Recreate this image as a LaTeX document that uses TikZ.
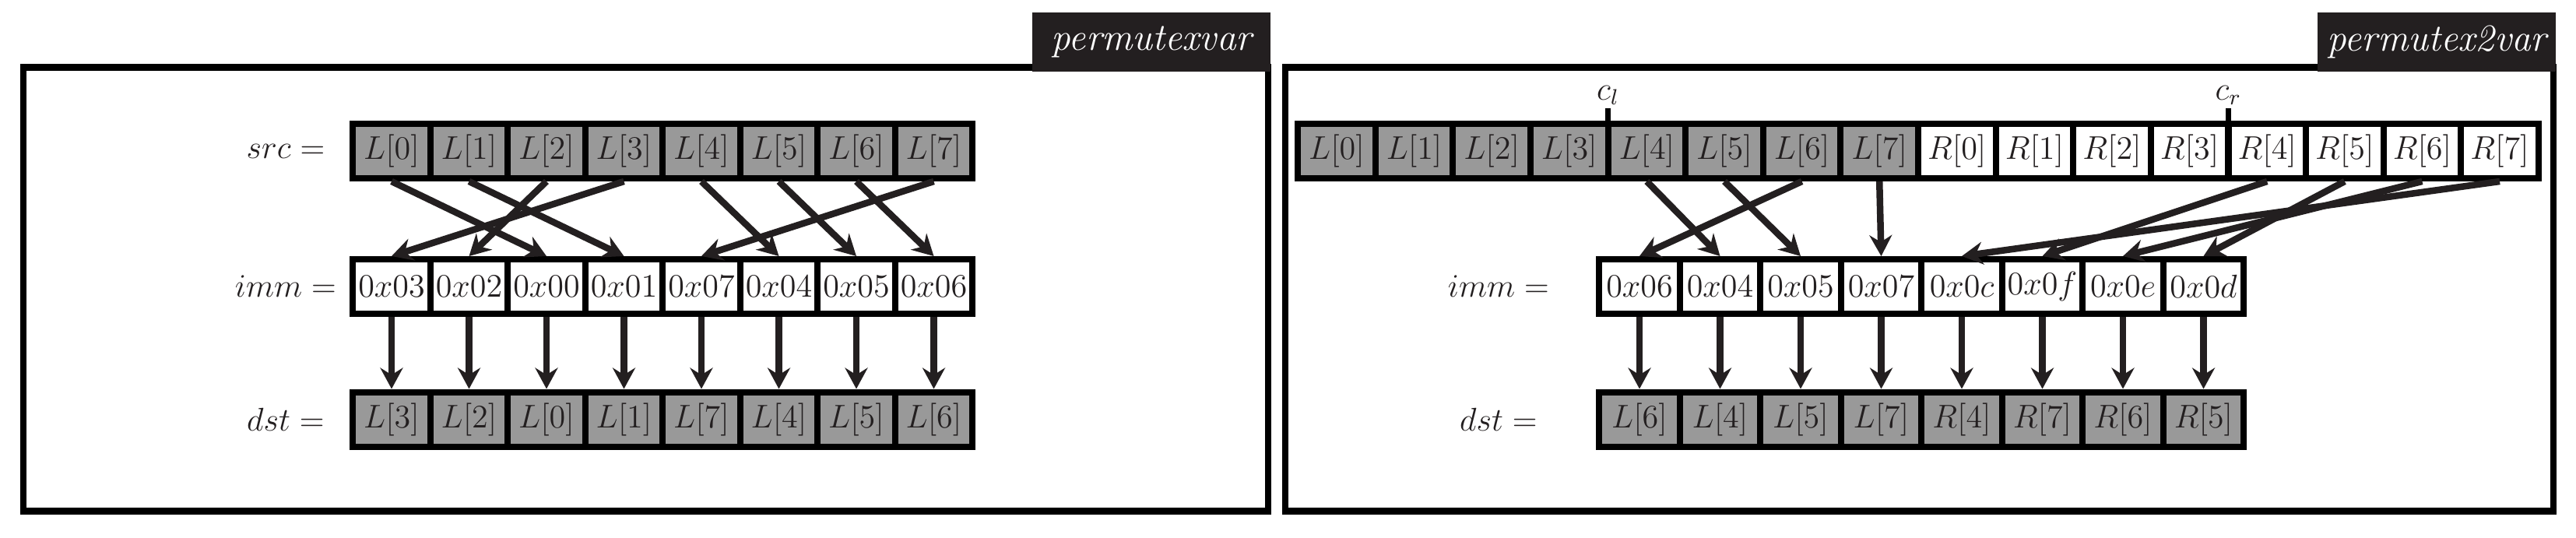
\documentclass[tikz,border=0pt]{standalone}
\usetikzlibrary{arrows.meta,calc,positioning}
\definecolor{ink}{HTML}{231F20}
\definecolor{cellgray}{HTML}{999999}
\begin{document}
\begin{tikzpicture}[font=\fontsize{12}{14}\selectfont, text=ink]
    \tikzstyle{cell} = [draw=black, line width=0.08cm, minimum width=0.995cm, minimum height=0.70cm, inner sep=0pt];
    \tikzstyle{gcell} = [cell, fill=cellgray]
    \tikzstyle{wcell} = [cell, fill=white]
    \tikzstyle{wide} = [minimum width=1.035cm]
    \tikzstyle{frame} = [draw=black, line width=0.085cm]
    \tikzstyle{tab} = [fill=ink, text=white, minimum width=3.06cm, minimum height=0.76cm, inner sep=0pt, anchor=north east, font=\fontsize{14}{16}\selectfont\itshape]
    \tikzstyle{flow} = [ink, line width=0.085cm, -{Stealth[length=0.27cm, width=0.29cm, inset=0.09cm]}];
    \tikzstyle{tick} = [black, line width=0.07cm]

    \useasboundingbox (0,0) rectangle (33.09,-6.90);

    % permutexvar
    \draw[frame] (0.30,-0.865) rectangle (16.29,-6.565);
    \node[tab] (T-1) at (16.33,-0.15) {permutexvar};

    \node (src-1) at (3.67,-1.94) {$src =$};
    \node (imm-1) at (3.67,-3.68) {$imm =$};
    \node (dst-1) at (3.67,-5.385) {$dst =$};

    \foreach \x in {0,...,7}
        \node[gcell] (S-\x) at (5.03+\x*0.995,-1.94) {$L[\x]$};

    \foreach \v [count=\i from 0] in {03,02,00,01,07,04,05,06}
        \node[wcell] (M-\i) at (5.03+\i*0.995,-3.68) {$0x\v$};

    \foreach \v [count=\i from 0] in {3,2,0,1,7,4,5,6}
        \node[gcell] (D-\i) at (5.03+\i*0.995,-5.385) {$L[\v]$};

    \foreach \s [count=\i from 0] in {3,2,0,1,7,4,5,6}
        \draw[flow] (S-\s.south) -- (M-\i.north);

    \foreach \i in {0,...,7}
        \draw[flow] (M-\i.south) -- (D-\i.north);

    % permutex2var
    \draw[frame] (16.51,-0.865) rectangle (32.80,-6.565);
    \node[tab] (T-2) at (32.84,-0.15) {permutex2var};

    \node (imm-2) at (19.25,-3.68) {$imm =$};
    \node (dst-2) at (19.25,-5.385) {$dst =$};

    \foreach \x in {0,...,7}
        \node[gcell] (S2-\x) at (17.17+\x*0.996,-1.94) {$L[\x]$};
    \foreach \x [evaluate=\x as \k using int(\x+8)] in {0,...,7}
        \node[wcell] (S2-\k) at (17.17+\k*0.996,-1.94) {$R[\x]$};

    \foreach \v [count=\i from 0] in {06,04,05,07,0c,0f,0e,0d}
        \node[wcell, wide] (M2-\i) at (21.06+\i*1.035,-3.68) {$0x\v$};

    \foreach \v [count=\i from 0] in {L[6],L[4],L[5],L[7],R[4],R[7],R[6],R[5]}
        \node[gcell, wide] (D2-\i) at (21.06+\i*1.035,-5.385) {$\v$};

    \coordinate (cl-foot) at ($(S2-3.north east)!0.5!(S2-4.north west)$);
    \coordinate (cr-foot) at ($(S2-11.north east)!0.5!(S2-12.north west)$);
    \node[inner sep=1pt] (cl) [above=0.16cm of cl-foot] {$c_l$};
    \node[inner sep=1pt] (cr) [above=0.16cm of cr-foot] {$c_r$};
    \draw[tick] (cl-foot) -- (cl.south);
    \draw[tick] (cr-foot) -- (cr.south);

    \foreach \s [count=\i from 0] in {6,4,5,7,15,12,14,13}
        \draw[flow] (S2-\s.south) -- (M2-\i.north);

    \foreach \i in {0,...,7}
        \draw[flow] (M2-\i.south) -- (D2-\i.north);

\end{tikzpicture}
\end{document}
